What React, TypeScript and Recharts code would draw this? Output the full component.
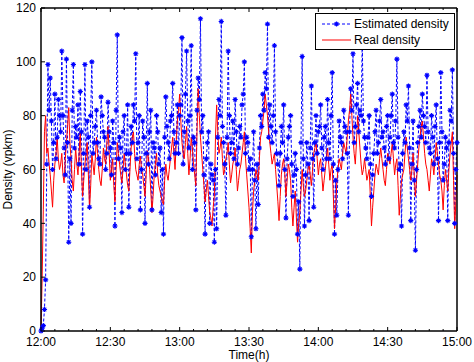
import { LineChart, Line, XAxis, YAxis, Legend } from 'recharts';

// sampling every 30 s from 12:00 to 15:00, time in minutes after 12:00
const minutes = Array.from({ length: 361 }, (_, i) => i / 2);

// values on the full minute
const estimated = [
  0, 2, 19, 99, 94, 60, 88, 72, 80, 104, 68, 101, 33, 40, 99, 76, 84, 89, 36, 99,
  78, 46, 100, 70, 82, 64, 87, 74, 60, 85, 68, 78, 39, 110, 72, 44, 80, 66, 46, 76,
  84, 103, 70, 45, 78, 40, 92, 74, 45, 68, 80, 62, 44, 36, 87, 70, 78, 92, 66, 84,
  80, 109, 74, 104, 68, 106, 72, 45, 94, 116, 80, 36, 70, 40, 58, 33, 38, 86, 115, 70,
  43, 104, 66, 78, 86, 62, 76, 84, 100, 72, 60, 35, 74, 38, 47, 80, 88, 96, 114, 84,
  70, 106, 66, 54, 76, 84, 42, 72, 80, 50, 66, 36, 23, 102, 39, 70, 41, 91, 46, 80,
  74, 84, 60, 76, 86, 64, 96, 36, 43, 78, 70, 82, 74, 43, 90, 103, 76, 92, 82, 108,
  72, 64, 80, 50, 66, 82, 70, 86, 74, 62, 80, 72, 88, 68, 101, 60, 39, 74, 84, 91,
  41, 78, 30, 70, 82, 88, 76, 95, 68, 80, 62, 84, 41, 96, 56, 72, 41, 82, 97, 40,
  70,
];
// values on the half minute
const estimatedHalf = [
  1, 8, 62, 82, 78, 70, 64, 86, 74, 80, 58, 70, 64, 82, 68, 72, 62, 74, 66, 60,
  72, 80, 66, 76, 70, 62, 80, 72, 66, 74, 58, 70, 82, 64, 68, 74, 60, 84, 66, 70,
  78, 64, 80, 60, 72, 66, 62, 82, 70, 58, 74, 68, 60, 72, 76, 64, 80, 74, 70, 66,
  84, 62, 88, 78, 80, 60, 70, 82, 86, 74, 58, 64, 74, 62, 56, 60, 72, 80, 76, 62,
  72, 80, 70, 64, 74, 68, 72, 88, 66, 70, 64, 60, 56, 62, 68, 76, 82, 90, 72, 76,
  80, 74, 62, 66, 70, 60, 64, 76, 62, 58, 60, 48, 70, 64, 58, 62, 68, 64, 70, 66,
  76, 68, 72, 64, 70, 80, 62, 56, 60, 72, 64, 76, 66, 74, 82, 70, 84, 74, 80, 78,
  68, 72, 62, 58, 74, 66, 78, 72, 68, 76, 64, 80, 70, 78, 72, 62, 66, 70, 78, 68,
  62, 56, 60, 76, 72, 80, 70, 74, 66, 72, 76, 64, 70, 74, 62, 68, 70, 78, 66, 60,
];

const real = [
  0, 45, 80, 68, 58, 46, 62, 72, 60, 66, 55, 70, 83, 64, 52, 68, 58, 74, 50, 62,
  70, 45, 66, 58, 72, 60, 54, 68, 62, 76, 56, 64, 48, 70, 62, 55, 66, 58, 52, 68,
  74, 60, 56, 65, 58, 50, 67, 60, 44, 58, 66, 54, 50, 47, 62, 56, 64, 72, 60, 78,
  88, 70, 64, 76, 58, 72, 62, 54, 90, 72, 60, 48, 56, 44, 39, 50, 84, 66, 72, 58,
  64, 70, 55, 62, 68, 52, 60, 66, 74, 58, 46, 29, 52, 60, 56, 72, 78, 88, 80, 70,
  62, 66, 54, 41, 58, 64, 50, 62, 56, 39, 52, 33, 44, 60, 50, 56, 62, 54, 66, 70,
  58, 64, 52, 60, 68, 56, 62, 38, 55, 64, 60, 70, 66, 78, 88, 72, 62, 80, 68, 58,
  64, 56, 60, 39, 52, 62, 58, 68, 60, 54, 66, 62, 70, 58, 64, 43, 56, 60, 72, 64,
  56, 66, 50, 62, 72, 78, 66, 60, 52, 64, 58, 70, 62, 56, 45, 60, 52, 66, 74, 38,
  58,
];
const realHalf = [
  20, 74, 66, 62, 52, 56, 66, 64, 62, 58, 64, 76, 70, 56, 60, 62, 66, 60, 56, 66,
  58, 54, 62, 64, 66, 56, 60, 64, 70, 66, 60, 54, 60, 66, 58, 60, 62, 54, 60, 72,
  66, 58, 62, 60, 54, 58, 64, 52, 50, 62, 58, 52, 48, 56, 58, 60, 68, 66, 70, 82,
  78, 66, 70, 66, 64, 68, 58, 74, 80, 66, 54, 52, 50, 42, 46, 72, 74, 68, 64, 60,
  66, 62, 58, 64, 60, 56, 62, 70, 64, 52, 38, 44, 56, 58, 64, 74, 82, 84, 74, 66,
  64, 60, 48, 50, 62, 58, 56, 60, 46, 46, 42, 40, 52, 54, 52, 60, 58, 60, 68, 64,
  62, 58, 56, 64, 62, 60, 50, 46, 60, 62, 66, 68, 72, 82, 80, 66, 70, 74, 62, 60,
  60, 58, 50, 46, 58, 60, 64, 64, 56, 60, 64, 66, 64, 62, 54, 50, 58, 66, 68, 60,
  60, 58, 56, 68, 76, 72, 62, 56, 58, 62, 64, 66, 58, 52, 54, 56, 60, 70, 56, 48,
];

const timeTicks = [
  0, 6, 12, 18, 24, 30, 36, 42, 48, 54, 60, 66, 72, 78, 84, 90, 96, 102, 108, 114,
  120, 126, 132, 138, 144, 150, 156, 162, 168, 174, 180,
];
const densityTicks = [0, 20, 40, 60, 80, 100, 120];

const data = minutes.map((t, i) => {
  const k = Math.floor(i / 2);
  const half = i % 2 === 1;
  return {
    t,
    est: half ? estimatedHalf[k] : estimated[k],
    real: half ? realHalf[k] : real[k],
  };
});

const FONT = '"Liberation Sans", Arial, sans-serif';
const GAP = 4;

function fmtTime(v: number) {
  const h = 12 + Math.floor(v / 60);
  const m = v % 60;
  return `${h}:${m < 10 ? '0' + m : m}`;
}

function BottomTick({ x, y, payload }: any) {
  const v = payload.value;
  const major = v % 30 === 0;
  const ay = y - GAP;
  return (
    <g>
      <line x1={x} x2={x} y1={ay} y2={ay - (major ? 4 : 2)} stroke="#000" />
      {major && (
        <text x={x} y={ay + 15} textAnchor="middle" fontSize={12} fill="#000" fontFamily={FONT}>
          {fmtTime(v)}
        </text>
      )}
    </g>
  );
}

function TopTick({ x, y, payload }: any) {
  const major = payload.value % 30 === 0;
  const ay = y + GAP;
  return <line x1={x} x2={x} y1={ay} y2={ay + (major ? 4 : 2)} stroke="#000" />;
}

function LeftTick({ x, y, payload }: any) {
  const ax = x + GAP;
  return (
    <g>
      <line x1={ax} x2={ax + 4} y1={y} y2={y} stroke="#000" />
      <text x={ax - 5} y={y} dy="0.36em" textAnchor="end" fontSize={12} fill="#000" fontFamily={FONT}>
        {payload.value}
      </text>
    </g>
  );
}

function RightTick({ x, y }: any) {
  const ax = x - GAP;
  return <line x1={ax} x2={ax - 4} y1={y} y2={y} stroke="#000" />;
}

function Star({ cx, cy }: any) {
  if (cx == null || cy == null) return null;
  const r = 2.6;
  const d = 1.8;
  return (
    <path
      d={`M${cx - r},${cy}H${cx + r}M${cx},${cy - r}V${cy + r}M${cx - d},${cy - d}L${cx + d},${cy + d}M${cx - d},${cy + d}L${cx + d},${cy - d}`}
      stroke="#0000ff"
      strokeWidth={1.1}
      fill="none"
    />
  );
}

function LegendBox() {
  return (
    <svg width={140} height={37} style={{ display: 'block' }}>
      <rect x={0.5} y={0.5} width={139} height={36} fill="#fff" stroke="#000" strokeWidth={1} />
      <line x1={7} x2={36} y1={11} y2={11} stroke="#0000ff" strokeDasharray="3 2" />
      <Star cx={21.5} cy={11} />
      <text x={39} y={11} dy="0.36em" fontSize={12} fontFamily={FONT} fill="#000">
        Estimated density
      </text>
      <line x1={7} x2={36} y1={27} y2={27} stroke="#ff0000" />
      <text x={39} y={27} dy="0.36em" fontSize={12} fontFamily={FONT} fill="#000">
        Real density
      </text>
    </svg>
  );
}

export default function App() {
  return (
    <div style={{ width: 474, height: 362, background: '#fff', fontFamily: FONT }}>
      <style>{'body{margin:0}'}</style>
      <LineChart width={474} height={362} data={data} margin={{ top: 0, right: 0, bottom: 0, left: 0 }}>
        <XAxis
          dataKey="t"
          type="number"
          domain={[0, 180]}
          ticks={timeTicks}
          interval={0}
          height={31}
          tickSize={0}
          tickMargin={GAP}
          tickLine={false}
          axisLine={{ stroke: '#000', strokeWidth: 1.5 }}
          tick={(p: any) => <BottomTick {...p} />}
          label={({ viewBox }: any) => (
            <text
              x={viewBox.x + viewBox.width / 2}
              y={viewBox.y + 28}
              textAnchor="middle"
              fontSize={12}
              fontFamily={FONT}
              fill="#000"
            >
              Time(h)
            </text>
          )}
        />
        <XAxis
          xAxisId="top"
          orientation="top"
          dataKey="t"
          type="number"
          domain={[0, 180]}
          ticks={timeTicks}
          interval={0}
          height={8}
          tickSize={0}
          tickMargin={GAP}
          tickLine={false}
          axisLine={{ stroke: '#000', strokeWidth: 1.5 }}
          tick={(p: any) => <TopTick {...p} />}
        />
        <YAxis
          type="number"
          domain={[0, 120]}
          ticks={densityTicks}
          interval={0}
          width={41}
          tickSize={0}
          tickMargin={GAP}
          tickLine={false}
          axisLine={{ stroke: '#000', strokeWidth: 1.5 }}
          tick={(p: any) => <LeftTick {...p} />}
          label={({ viewBox }: any) => {
            const lx = viewBox.x + 12;
            const ly = viewBox.y + viewBox.height / 2;
            return (
              <text
                x={lx}
                y={ly}
                transform={`rotate(-90 ${lx} ${ly})`}
                textAnchor="middle"
                fontSize={12}
                fontFamily={FONT}
                fill="#000"
              >
                Density (vpkm)
              </text>
            );
          }}
        />
        <YAxis
          yAxisId="right"
          orientation="right"
          type="number"
          domain={[0, 120]}
          ticks={densityTicks}
          interval={0}
          width={17}
          tickSize={0}
          tickMargin={GAP}
          tickLine={false}
          axisLine={{ stroke: '#000', strokeWidth: 1.5 }}
          tick={(p: any) => <RightTick {...p} />}
        />
        <Line
          type="linear"
          dataKey="est"
          name="Estimated density"
          stroke="#0000ff"
          strokeWidth={1}
          strokeDasharray="3 2"
          dot={(p: any) => <Star key={p.index} cx={p.cx} cy={p.cy} />}
          activeDot={false}
          isAnimationActive={false}
        />
        <Line
          type="linear"
          dataKey="real"
          name="Real density"
          stroke="#ff0000"
          strokeWidth={1}
          dot={false}
          activeDot={false}
          isAnimationActive={false}
        />
        <Legend
          layout="horizontal"
          verticalAlign="middle"
          align="center"
          wrapperStyle={{ left: 315, top: 13, width: 140, height: 37 }}
          content={() => <LegendBox />}
        />
      </LineChart>
    </div>
  );
}
